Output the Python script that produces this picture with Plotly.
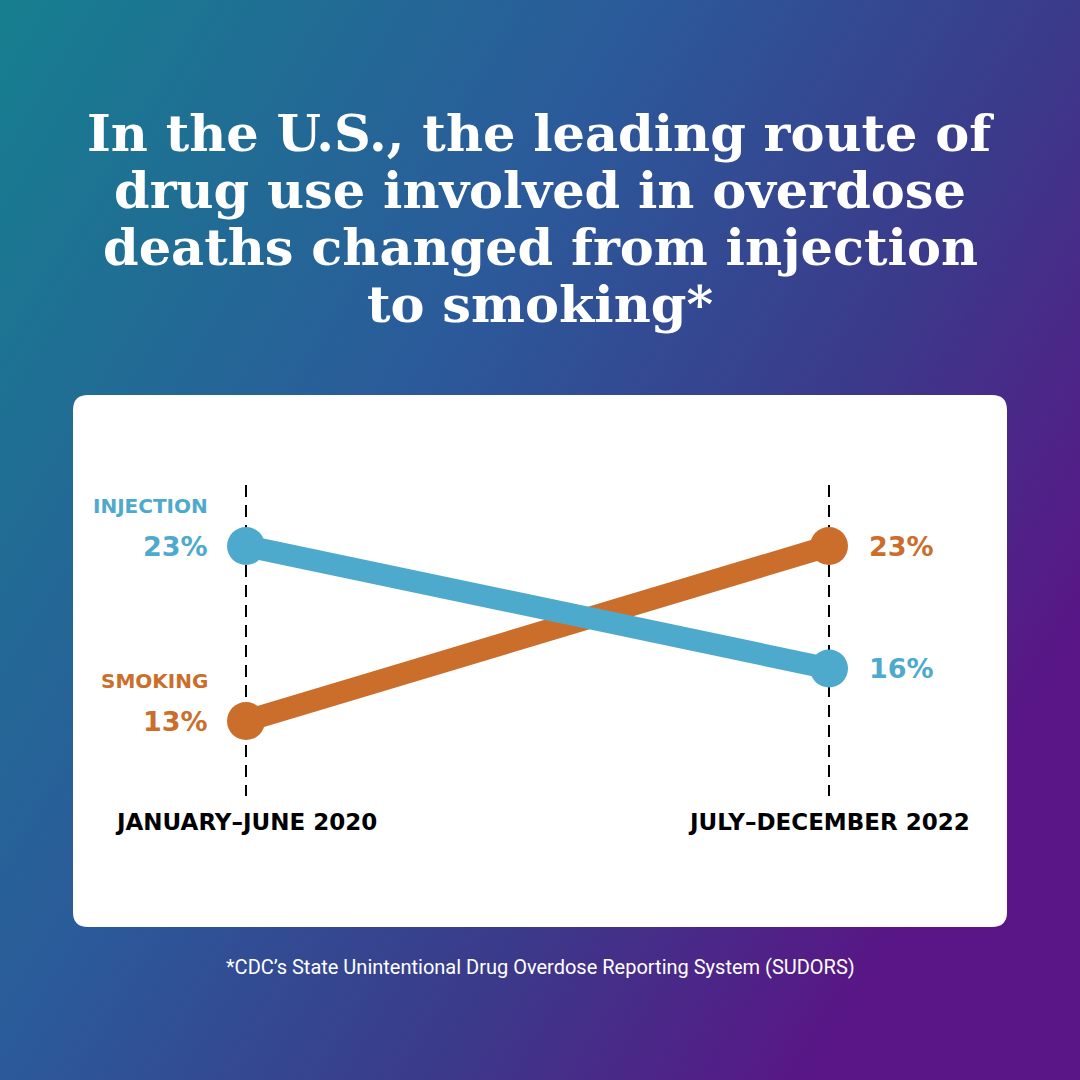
import base64
import plotly.graph_objects as go

# data
periods = ["JANUARY–JUNE 2020", "JULY–DECEMBER 2022"]
injection = [23, 16]
smoking = [13, 23]
series_names = ["INJECTION", "SMOKING"]

BLUE = "#4eaacd"
ORANGE = "#cc6e2b"
W = H = 1080

title_lines = ["In the U.S., the leading route of", "drug use involved in overdose",
               "deaths changed from injection", "to smoking*"]
note = "*CDC’s State Unintentional Drug Overdose Reporting System (SUDORS)"

# gradient background as an inline svg
svg = """<svg xmlns="http://www.w3.org/2000/svg" width="1080" height="1080">
<defs><linearGradient id="g" x1="0" y1="0" x2="1" y2="0.6">
<stop offset="0" stop-color="#167f8f"/>
<stop offset="0.44" stop-color="#2b5a9a"/>
<stop offset="0.735" stop-color="#3b3a8a"/>
<stop offset="1" stop-color="#5a1586"/>
</linearGradient></defs>
<rect width="1080" height="1080" fill="url(#g)"/></svg>"""
bg_src = "data:image/svg+xml;base64," + base64.b64encode(svg.encode()).decode()

# map category index 0 -> px 246, 1 -> px 829; value 23 -> px 546, 13 -> px 721
px_per_x = 829 - 246
x0 = -246 / px_per_x
x1 = x0 + W / px_per_x
px_per_y = (721 - 546) / (23 - 13)
y1 = 23 + 546 / px_per_y
y0 = y1 - H / px_per_y

xs = [0, 1]
fig = go.Figure()
fig.add_trace(go.Scatter(x=xs, y=smoking, mode="lines+markers",
                         line=dict(color=ORANGE, width=22),
                         marker=dict(color=ORANGE, size=38), hoverinfo="skip"))
fig.add_trace(go.Scatter(x=xs, y=injection, mode="lines+markers",
                         line=dict(color=BLUE, width=22),
                         marker=dict(color=BLUE, size=38), hoverinfo="skip"))


def pyp(p):
    return 1 - p / H


def pxp(p):
    return p / W


# white card with rounded corners
l, r, t, b = pxp(73), pxp(1007), pyp(395), pyp(927)
rx, ry = 15 / W, 15 / H
card = (f"M {l+rx},{t} L {r-rx},{t} Q {r},{t} {r},{t-ry} L {r},{b+ry} Q {r},{b} {r-rx},{b} "
        f"L {l+rx},{b} Q {l},{b} {l},{b+ry} L {l},{t-ry} Q {l},{t} {l+rx},{t} Z")
shapes = [dict(type="path", path=card, xref="paper", yref="paper",
               fillcolor="white", line=dict(width=0), layer="below")]
for xi in xs:
    shapes.append(dict(type="line", xref="x", yref="paper", x0=xi, x1=xi,
                       y0=pyp(485), y1=pyp(796),
                       line=dict(color="black", width=2, dash="12px,8px"), layer="below"))

lab_font = "DejaVu Sans"
ann = []
for i, line in enumerate(title_lines):
    ann.append(dict(text=line, x=0.5, y=pyp(133 + 57 * i), xref="paper", yref="paper",
                    showarrow=False, xanchor="center", yanchor="middle",
                    font=dict(family="DejaVu Serif", size=51, color="white", weight="bold")))
ann.append(dict(text=note, x=0.5, y=pyp(967), xref="paper", yref="paper",
                showarrow=False, xanchor="center", yanchor="middle",
                font=dict(family="Roboto", size=20, color="white")))
for xi, name in zip(xs, periods):
    ann.append(dict(text=name, x=xi, y=pyp(822), xref="x", yref="paper",
                    showarrow=False, xanchor="center", yanchor="middle",
                    font=dict(family=lab_font, size=23, color="black", weight="bold")))

for vals, name, col in [(injection, series_names[0], BLUE), (smoking, series_names[1], ORANGE)]:
    ann.append(dict(text=name, x=0, y=vals[0], xref="x", yref="y", showarrow=False,
                    xanchor="right", yanchor="middle", xshift=-36, yshift=40,
                    font=dict(family=lab_font, size=20, color=col, weight="bold")))
    ann.append(dict(text=f"{vals[0]}%", x=0, y=vals[0], xref="x", yref="y", showarrow=False,
                    xanchor="right", yanchor="middle", xshift=-36,
                    font=dict(family=lab_font, size=27, color=col, weight="bold")))
    ann.append(dict(text=f"{vals[1]}%", x=1, y=vals[1], xref="x", yref="y", showarrow=False,
                    xanchor="left", yanchor="middle", xshift=38,
                    font=dict(family=lab_font, size=27, color=col, weight="bold")))

fig.update_layout(
    width=W, height=H, margin=dict(l=0, r=0, t=0, b=0),
    paper_bgcolor="#2f5290", plot_bgcolor="rgba(0,0,0,0)",
    showlegend=False,
    xaxis=dict(range=[x0, x1], visible=False, fixedrange=True),
    yaxis=dict(range=[y0, y1], visible=False, fixedrange=True),
    images=[dict(source=bg_src, xref="paper", yref="paper", x=0, y=1, sizex=1, sizey=1,
                 sizing="stretch", layer="below", xanchor="left", yanchor="top")],
    shapes=shapes, annotations=ann,
)
# drop the browser's default page margin so the figure fills the window
fig.write_html("out.html", config={"displayModeBar": False},
               post_script="document.body.style.margin='0';")
